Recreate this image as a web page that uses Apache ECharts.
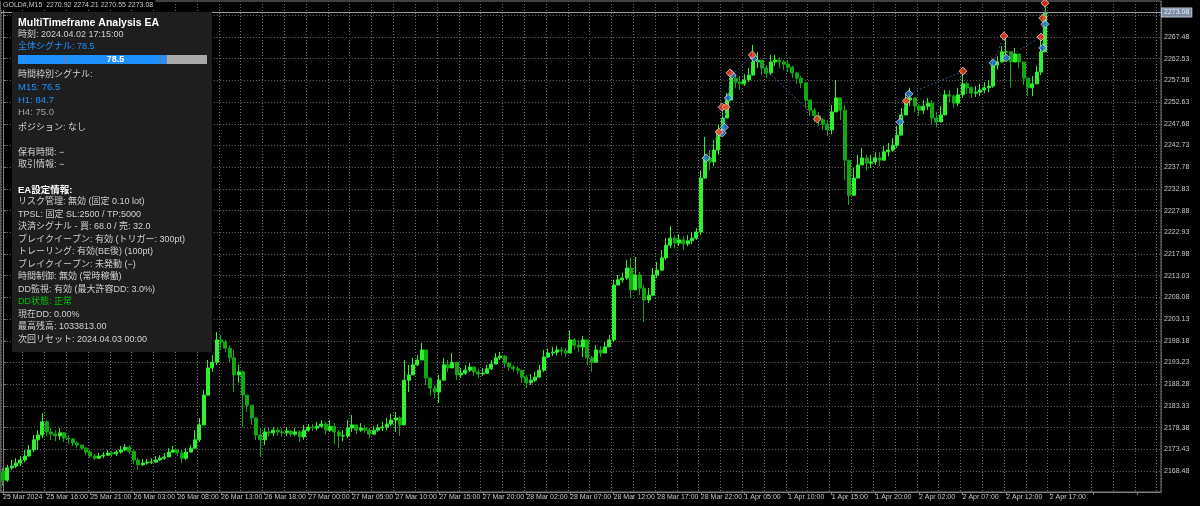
<!DOCTYPE html>
<html><head><meta charset="utf-8">
<script src="https://cdn.jsdelivr.net/npm/echarts@6/dist/echarts.min.js"></script>
<style>html,body{margin:0;padding:0;background:#000;}#c{width:1200px;height:506px;}</style>
</head><body><div id="c"></div>
<script>
// ---------- data ----------
const symbolInfo = 'GOLD#,M15  2270.92 2274.21 2270.55 2273.08';
const timeLabels = ['25 Mar 2024','25 Mar 16:00','25 Mar 21:00','26 Mar 03:00','26 Mar 08:00','26 Mar 13:00','26 Mar 18:00','27 Mar 00:00','27 Mar 05:00','27 Mar 10:00','27 Mar 15:00','27 Mar 20:00','28 Mar 02:00','28 Mar 07:00','28 Mar 12:00','28 Mar 17:00','28 Mar 22:00','1 Apr 05:00','1 Apr 10:00','1 Apr 15:00','1 Apr 20:00','2 Apr 02:00','2 Apr 07:00','2 Apr 12:00','2 Apr 17:00'];
const priceTicks = [2168.48,2173.43,2178.38,2183.33,2188.28,2193.23,2198.18,2203.13,2208.08,2213.03,2217.98,2222.93,2227.88,2232.83,2237.78,2242.73,2247.68,2252.63,2257.58,2262.53,2267.48,2272.43];
const lastPrice = 2273.08;
const totalSlots = 266;

const opens = [2168.3,2166.4,2169.2,2169.6,2170.3,2171.0,2171.9,2173.3,2175.6,2176.7,
 2179.7,2177.4,2176.9,2176.5,2177.2,2176.0,2175.8,2174.9,2174.4,2173.7,
 2172.8,2171.9,2171.4,2171.9,2172.1,2172.6,2172.4,2172.8,2173.3,2173.9,
 2173.0,2171.0,2169.9,2170.3,2170.5,2170.5,2171.0,2171.4,2171.7,2172.8,
 2173.3,2172.6,2171.4,2172.8,2173.7,2175.6,2179.0,2185.8,2192.0,2193.3,
 2198.4,2197.9,2196.5,2194.3,2190.4,2191.1,2185.8,2183.5,2180.6,2176.7,
 2175.6,2177.4,2177.2,2177.8,2177.4,2177.2,2177.6,2176.9,2177.4,2176.3,
 2177.8,2178.5,2178.3,2178.7,2179.2,2177.8,2178.7,2177.4,2176.5,2176.5,
 2178.3,2179.0,2177.8,2178.3,2177.8,2176.9,2177.8,2178.3,2178.5,2179.2,
 2180.1,2180.6,2179.0,2189.2,2190.4,2192.7,2193.8,2196.1,2189.7,2187.4,
 2186.5,2189.2,2192.7,2192.0,2193.3,2190.4,2190.8,2191.5,2192.2,2191.1,
 2190.6,2190.8,2191.8,2192.9,2194.3,2194.7,2193.1,2192.2,2191.8,2191.5,
 2189.9,2188.6,2189.2,2189.9,2191.5,2194.5,2195.4,2195.6,2196.1,2195.9,
 2195.4,2198.4,2197.2,2196.8,2198.4,2194.3,2193.3,2196.1,2195.4,2196.8,
 2198.4,2210.9,2212.1,2212.5,2214.8,2209.8,2213.2,2210.2,2207.5,2208.6,
 2213.2,2214.3,2217.1,2220.0,2221.6,2220.5,2221.2,2220.3,2221.0,2221.6,
 2223.0,2235.3,2239.9,2239.0,2241.7,2246.3,2249.0,2253.1,2258.1,2257.2,
 2256.8,2257.7,2258.8,2261.8,2262.2,2260.4,2259.3,2261.8,2262.2,2261.8,
 2261.3,2260.6,2259.3,2258.1,2257.0,2253.1,2250.8,2249.5,2248.6,2247.6,
 2246.3,2250.4,2253.6,2250.8,2239.4,2231.4,2235.3,2238.3,2239.9,2238.7,
 2239.0,2239.9,2239.4,2241.3,2241.7,2242.8,2245.1,2249.7,2253.1,2253.6,
 2251.7,2250.8,2251.7,2252.4,2249.0,2248.1,2249.7,2254.3,2254.0,2252.4,
 2254.3,2256.8,2255.9,2254.7,2254.9,2255.4,2255.9,2256.3,2261.1,2261.8,
 2264.1,2264.1,2261.8,2263.6,2261.8,2258.1,2255.9,2256.8,2259.5,2264.1];
const closes = [2166.4,2169.2,2169.6,2170.3,2171.0,2171.9,2173.3,2175.6,2176.7,2179.7,
 2177.4,2176.9,2176.5,2177.2,2176.0,2175.8,2174.9,2174.4,2173.7,2172.8,
 2171.9,2171.4,2171.9,2172.1,2172.6,2172.4,2172.8,2173.3,2173.9,2173.0,
 2171.0,2169.9,2170.3,2170.5,2170.5,2171.0,2171.4,2171.7,2172.8,2173.3,
 2172.6,2171.4,2172.8,2173.7,2175.6,2179.0,2185.8,2192.0,2193.3,2198.4,
 2197.9,2196.5,2194.3,2190.4,2191.1,2185.8,2183.5,2180.6,2176.7,2175.6,
 2177.4,2177.2,2177.8,2177.4,2177.2,2177.6,2176.9,2177.4,2176.3,2177.8,
 2178.5,2178.3,2178.7,2179.2,2177.8,2178.7,2177.4,2176.5,2176.5,2178.3,
 2179.0,2177.8,2178.3,2177.8,2176.9,2177.8,2178.3,2178.5,2179.2,2180.1,
 2180.6,2179.0,2189.2,2190.4,2192.7,2193.8,2196.1,2189.7,2187.4,2186.5,
 2189.2,2192.7,2192.0,2193.3,2190.4,2190.8,2191.5,2192.2,2191.1,2190.6,
 2190.8,2191.8,2192.9,2194.3,2194.7,2193.1,2192.2,2191.8,2191.5,2189.9,
 2188.6,2189.2,2189.9,2191.5,2194.5,2195.4,2195.6,2196.1,2195.9,2195.4,
 2198.4,2197.2,2196.8,2198.4,2194.3,2193.3,2196.1,2195.4,2196.8,2198.4,
 2210.9,2212.1,2212.5,2214.8,2209.8,2213.2,2210.2,2207.5,2208.6,2213.2,
 2214.3,2217.1,2220.0,2221.6,2220.5,2221.2,2220.3,2221.0,2221.6,2223.0,
 2235.3,2239.9,2239.0,2241.7,2246.3,2249.0,2253.1,2258.1,2257.2,2256.8,
 2257.7,2258.8,2261.8,2262.2,2260.4,2259.3,2261.8,2262.2,2261.8,2261.3,
 2260.6,2259.3,2258.1,2257.0,2253.1,2250.8,2249.5,2248.6,2247.6,2246.3,
 2250.4,2253.6,2250.8,2239.4,2231.4,2235.3,2238.3,2239.9,2238.7,2239.0,
 2239.9,2239.4,2241.3,2241.7,2242.8,2245.1,2249.7,2253.1,2253.6,2251.7,
 2250.8,2251.7,2252.4,2249.0,2248.1,2249.7,2254.3,2254.0,2252.4,2254.3,
 2256.8,2255.9,2254.7,2254.9,2255.4,2255.9,2256.3,2261.1,2261.8,2264.1,
 2264.1,2261.8,2263.6,2261.8,2258.1,2255.9,2256.8,2259.5,2264.1,2273.08];
const highs = [2169.2,2169.9,2171.0,2171.4,2171.9,2173.3,2174.4,2176.7,2177.8,2181.7,
 2180.1,2178.3,2177.8,2178.3,2177.4,2176.7,2176.0,2175.3,2174.6,2173.9,
 2173.3,2172.4,2172.6,2172.8,2173.3,2173.0,2173.3,2174.2,2174.6,2174.4,
 2173.3,2171.4,2171.2,2171.2,2171.4,2171.9,2172.1,2172.6,2173.7,2174.2,
 2173.5,2173.3,2173.7,2174.4,2177.8,2180.6,2187.0,2193.8,2194.9,2200.2,
 2199.5,2198.4,2197.2,2196.1,2192.7,2191.5,2184.7,2183.5,2180.1,2178.3,
 2178.3,2178.3,2178.5,2178.5,2178.3,2178.5,2177.8,2178.3,2177.8,2179.0,
 2179.2,2179.2,2179.7,2180.1,2179.7,2180.1,2179.4,2177.8,2177.8,2180.1,
 2181.3,2179.0,2179.4,2179.0,2178.3,2178.7,2179.2,2179.7,2180.6,2181.5,
 2181.9,2181.0,2193.8,2192.7,2194.3,2194.9,2197.7,2196.1,2189.2,2188.1,
 2190.4,2194.3,2193.8,2195.4,2192.7,2192.0,2192.7,2193.1,2192.2,2191.8,
 2192.0,2192.7,2193.8,2195.4,2195.6,2194.9,2193.3,2192.7,2192.4,2191.5,
 2190.4,2190.6,2191.1,2192.7,2196.1,2196.5,2196.8,2197.0,2196.8,2196.5,
 2200.6,2198.8,2198.4,2199.3,2197.2,2194.7,2197.2,2197.0,2197.9,2199.5,
 2212.1,2213.2,2213.7,2216.6,2217.1,2217.3,2213.9,2210.9,2210.2,2214.8,
 2216.2,2218.9,2221.6,2224.4,2222.3,2222.5,2222.1,2222.3,2223.0,2223.9,
 2237.1,2244.7,2241.7,2244.0,2247.4,2252.0,2254.7,2260.0,2259.0,2258.6,
 2259.0,2260.4,2265.7,2264.1,2262.2,2261.1,2263.4,2263.4,2262.9,2262.2,
 2262.2,2260.9,2259.5,2258.6,2257.2,2252.7,2251.3,2250.4,2249.0,2248.6,
 2252.0,2257.7,2253.6,2252.0,2238.3,2237.6,2240.6,2242.2,2240.6,2240.6,
 2241.2,2241.2,2242.6,2243.3,2244.4,2247.2,2251.3,2254.3,2255.9,2253.6,
 2252.2,2253.1,2253.6,2253.1,2250.4,2251.7,2255.4,2255.4,2254.3,2255.9,
 2259.5,2257.2,2256.3,2256.3,2256.8,2257.2,2257.7,2262.2,2263.1,2265.4,
 2267.7,2263.4,2265.0,2263.4,2261.1,2258.1,2258.6,2260.9,2267.9,2274.8];
const lows = [2165.1,2166.0,2168.7,2169.2,2169.6,2170.5,2172.1,2172.8,2173.3,2176.0,
 2176.5,2175.6,2175.3,2175.6,2175.1,2174.6,2174.2,2173.7,2173.3,2172.1,
 2171.4,2171.0,2171.2,2171.4,2171.9,2171.7,2171.9,2172.4,2173.0,2172.4,
 2170.1,2168.7,2169.6,2169.9,2170.1,2170.3,2170.8,2171.0,2171.9,2172.6,
 2171.9,2170.3,2171.0,2172.8,2173.7,2175.1,2179.0,2185.8,2191.1,2192.7,
 2196.1,2195.6,2193.3,2186.5,2188.6,2178.5,2181.9,2179.0,2175.6,2171.7,
 2174.4,2176.3,2176.5,2176.5,2176.3,2176.5,2176.3,2176.5,2175.1,2175.6,
 2177.4,2177.6,2177.8,2178.3,2176.9,2177.4,2174.6,2173.7,2175.3,2176.0,
 2177.4,2176.9,2177.4,2177.2,2176.0,2176.9,2177.4,2177.6,2177.8,2178.7,
 2177.4,2176.5,2179.0,2186.5,2191.1,2192.4,2194.7,2188.1,2185.8,2185.1,
 2184.0,2189.7,2191.1,2192.0,2189.2,2189.7,2190.4,2191.1,2190.2,2189.7,
 2190.2,2190.6,2191.5,2193.1,2193.8,2192.0,2191.3,2191.1,2190.6,2188.6,
 2187.4,2188.1,2188.8,2190.4,2191.1,2194.3,2194.7,2194.9,2194.9,2194.5,
 2195.6,2196.1,2195.6,2194.5,2192.7,2191.1,2194.3,2194.5,2195.6,2197.0,
 2197.9,2210.9,2211.4,2212.1,2207.9,2209.8,2208.6,2202.5,2206.8,2208.4,
 2212.5,2214.8,2216.6,2219.3,2219.3,2219.8,2218.9,2219.8,2220.3,2221.2,
 2222.3,2237.1,2237.1,2238.0,2240.6,2245.1,2250.4,2253.1,2255.8,2255.4,
 2256.3,2257.2,2259.5,2260.4,2258.8,2258.1,2258.8,2260.9,2260.4,2260.0,
 2259.5,2258.1,2256.8,2255.8,2251.3,2249.5,2248.1,2247.2,2246.3,2244.9,
 2245.3,2250.8,2248.6,2234.9,2229.2,2232.6,2236.0,2238.3,2237.1,2237.6,
 2238.3,2238.0,2239.4,2240.3,2241.3,2242.2,2245.1,2249.7,2251.7,2250.4,
 2249.5,2249.9,2250.8,2247.4,2246.9,2248.1,2250.4,2252.7,2251.3,2251.7,
 2253.6,2254.5,2253.6,2253.8,2254.0,2254.7,2254.9,2255.9,2260.0,2262.7,
 2262.2,2255.9,2261.8,2260.4,2256.5,2254.0,2254.0,2257.2,2258.8,2266.8];

// trade arrows: [bar position, price]
const buyMarks = [[161.2,2239.9],[164.9,2245.6],[165.4,2246.9],[166.3,2253.6],[167.2,2258.8],[172.2,2262.7],[205.7,2248.1],[207.7,2254.5],[227.0,2261.6],[230.0,2262.7],[238.4,2265.0],[238.9,2270.4]];
const sellMarks = [[164.2,2245.8],[164.9,2251.5],[165.8,2251.5],[166.7,2259.3],[171.8,2263.4],[186.7,2248.8],[207.1,2252.9],[220.1,2259.7],[229.5,2267.7],[238.0,2267.5],[238.4,2271.8],[238.9,2275.2]];
const tradeLinks = [
 [[161.2,2239.9],[164.2,2245.8]],
 [[164.9,2245.6],[164.9,2251.5]],
 [[165.4,2246.9],[165.8,2251.5]],
 [[166.3,2253.6],[166.7,2259.3]],
 [[167.2,2258.8],[171.8,2263.4]],
 [[172.2,2262.7],[186.7,2248.8]],
 [[205.7,2248.1],[207.1,2252.9]],
 [[207.7,2254.5],[220.1,2259.7]],
 [[227.0,2261.6],[229.5,2267.7]],
 [[230.0,2262.7],[238.0,2267.5]],
 [[238.4,2265.0],[238.4,2271.8]],
 [[238.9,2270.4],[238.9,2275.2]]
];

// panel texts
const panelTitle = 'MultiTimeframe Analysis EA';
const panelTime = '時刻: 2024.04.02 17:15:00';
const overallLabel = '全体シグナル';
const overallSignal = 78.5;
const tfHeader = '時間枠別シグナル:';
const tfNames = ['M15','H1','H4'];
const tfValues = [76.5, 84.7, 75.0];
const positionText = 'ポジション: なし';
const holdText = '保有時間: −';
const tradeInfoText = '取引情報: −';
const settingsTitle = 'EA設定情報:';
const settingsLines = ['リスク管理: 無効 (固定 0.10 lot)','TPSL: 固定 SL:2500 / TP:5000','決済シグナル - 買: 68.0 / 売: 32.0','ブレイクイーブン: 有効 (トリガー: 300pt)','トレーリング: 有効(BE後) (100pt)','ブレイクイーブン: 未発動 (−)','時間制御: 無効 (常時稼働)','DD監視: 有効 (最大許容DD: 3.0%)'];
const ddStatusText = 'DD状態: 正常';
const ddLines = ['現在DD: 0.00%','最高残高: 1033813.00','次回リセット: 2024.04.03 00:00'];

// ---------- chart ----------
const FONT = '"Liberation Sans", "Noto Sans CJK JP", sans-serif';
const cats = [];
for (let i = 0; i < totalSlots; i++) cats.push(i % 10 === 0 && timeLabels[i / 10] ? timeLabels[i / 10] : 's' + i);
const candleData = opens.map((o, i) => [o, closes[i], lows[i], highs[i]]);

const gridLineStyle = { color: '#6e6e6e', width: 1, type: [1, 2] };
const TXT = '#d0d0d0';
function txt(x, y, text, fill, size, bold) {
  return { type: 'text', x: x, y: y, z: 100, silent: true,
    style: { text: text, fill: fill, font: (bold ? 'bold ' : '') + size + 'px ' + FONT, verticalAlign: 'middle', align: 'left' } };
}
const graphics = [];
graphics.push({ type: 'text', x: 1, y: 0, z: 100, style: { text: symbolInfo, fill: '#c8c8c8', font: '7px ' + FONT, backgroundColor: '#000', padding: [2, 2, 1, 2], verticalAlign: 'top' } });
graphics.push({ type: 'rect', z: 95, shape: { x: 12, y: 12, width: 200, height: 340 }, style: { fill: '#1e1e1e' } });
graphics.push(txt(18, 23, panelTitle, '#ffffff', 10.5, true));
graphics.push(txt(18, 35, panelTime, TXT, 9));
graphics.push(txt(18, 47, overallLabel + ': ' + overallSignal.toFixed(1), '#1e90ff', 9));
const barX = 18, barW = 189, barY = 55, barH = 9;
const blueW = barW * overallSignal / 100;
graphics.push({ type: 'rect', z: 96, shape: { x: barX, y: barY, width: blueW, height: barH }, style: { fill: '#1e90ff' } });
graphics.push({ type: 'rect', z: 96, shape: { x: barX + blueW, y: barY, width: barW - blueW, height: barH }, style: { fill: '#a9a9a9' } });
[0.25, 0.75].forEach(f => graphics.push({ type: 'line', z: 97, shape: { x1: barX + barW * f + 0.5, y1: barY, x2: barX + barW * f + 0.5, y2: barY + barH }, style: { stroke: '#7a7a7a', lineWidth: 1 } }));
graphics.push({ type: 'text', x: barX + barW / 2 + 3, y: barY + barH / 2 + 0.5, z: 100, style: { text: overallSignal.toFixed(1), fill: '#ffffff', font: 'bold 9px ' + FONT, align: 'center', verticalAlign: 'middle' } });
graphics.push(txt(18, 75, tfHeader, TXT, 9));
const tfColors = ['#1e90ff', '#1e90ff', '#a0a0a0'];
const tfY = [87, 100, 112];
tfNames.forEach((n, i) => graphics.push(txt(18, tfY[i], n + ': ' + tfValues[i].toFixed(1), tfColors[i], 9.5)));
graphics.push(txt(18, 128, positionText, TXT, 9));
graphics.push(txt(18, 153, holdText, TXT, 9));
graphics.push(txt(18, 165, tradeInfoText, TXT, 9));
graphics.push(txt(18, 190, settingsTitle, '#ffffff', 9.5, true));
settingsLines.forEach((s, i) => graphics.push(txt(18, 202 + i * 12.5, s, TXT, 9)));
graphics.push(txt(18, 302, ddStatusText, '#00c000', 9));
ddLines.forEach((s, i) => graphics.push(txt(18, 314.5 + i * 12.5, s, TXT, 9)));

const series = [
  {
    type: 'candlestick', xAxisIndex: 0, yAxisIndex: 0, data: candleData, barWidth: 3.5,
    itemStyle: { color: '#30f030', color0: '#12a812', borderColor: '#30f030', borderColor0: '#12a812', borderWidth: 1 },
    markLine: {
      silent: true, symbol: ['none', 'none'], animation: false,
      lineStyle: { color: '#9a9a9a', type: 'solid', width: 1 },
      label: { show: true, position: 'end', distance: 1, formatter: lastPrice.toFixed(2), color: '#e8eef6', backgroundColor: '#7d8ba0', borderColor: '#b8c4d4', borderWidth: 1, padding: [1, 2, 0, 2], fontSize: 7, fontFamily: FONT },
      data: [{ yAxis: lastPrice }]
    }
  },
  { type: 'scatter', xAxisIndex: 1, yAxisIndex: 0, data: buyMarks, symbol: 'diamond', symbolSize: 8, z: 6,
    itemStyle: { color: '#2a7be0', borderColor: '#d8d8d8', borderWidth: 1 } },
  { type: 'scatter', xAxisIndex: 1, yAxisIndex: 0, data: sellMarks, symbol: 'diamond', symbolSize: 8, z: 6,
    itemStyle: { color: '#ff3a1a', borderColor: '#d8d8d8', borderWidth: 1 } }
];
tradeLinks.forEach(p => series.push({ type: 'line', xAxisIndex: 1, yAxisIndex: 0, data: p, symbol: 'none', z: 5, silent: true,
  lineStyle: { color: '#35579c', width: 1, type: [2, 2] } }));

const chart = echarts.init(document.getElementById('c'), null, { renderer: 'canvas', width: 1200, height: 506 });
chart.setOption({
  backgroundColor: '#000000',
  animation: false,
  grid: { left: 0, right: 39, top: 1, bottom: 14, show: true, borderColor: '#808080', borderWidth: 1, backgroundColor: 'transparent' },
  xAxis: [
    { type: 'category', data: cats, boundaryGap: true,
      axisLine: { show: true, lineStyle: { color: '#808080' } },
      axisTick: { show: true, interval: 9, alignWithLabel: true, length: 3, lineStyle: { color: '#808080' } },
      axisLabel: { interval: 9, align: 'left', margin: 2, fontSize: 7, color: '#c8c8c8', fontFamily: '"Liberation Sans Narrow", "Liberation Sans", sans-serif',
        formatter: v => (v.charAt(0) === 's' ? '' : v) },
      splitLine: { show: true, interval: 4, lineStyle: gridLineStyle } },
    { type: 'value', min: -0.5, max: totalSlots - 0.5, show: false, splitLine: { show: false } }
  ],
  yAxis: [{
    type: 'value', position: 'right', min: 2163.7, max: 2275.7,
    axisLine: { show: true, lineStyle: { color: '#808080' } },
    axisTick: { show: true, length: 3, customValues: priceTicks, lineStyle: { color: '#808080' } },
    axisLabel: { customValues: priceTicks, formatter: v => v.toFixed(2), fontSize: 7, margin: 3, color: '#c8c8c8', fontFamily: FONT },
    splitLine: { show: true, lineStyle: gridLineStyle }
  }],
  series: series,
  graphic: graphics
});
</script>
</body></html>
